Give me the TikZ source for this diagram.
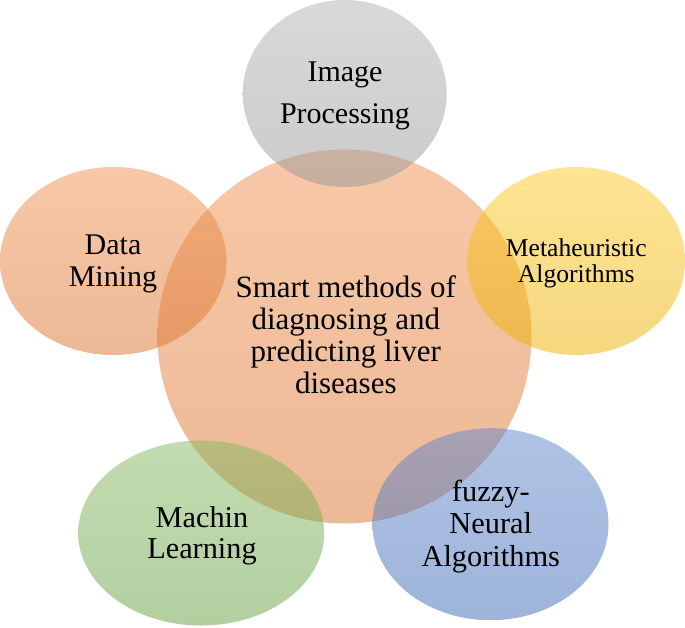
\documentclass[tikz,border=0pt]{standalone}
\usepackage{fontspec}
\setmainfont{Liberation Serif}
\definecolor{cgrey}{HTML}{A5A5A5}
\definecolor{corange}{HTML}{ED7D31}
\definecolor{cyellow}{HTML}{FFC000}
\definecolor{cblue}{HTML}{4472C4}
\definecolor{cgreen}{HTML}{70AD47}
\tikzset{
  bubble/.style={top color=#1!85!white, bottom color=#1!92!black, fill opacity=0.5, draw=none},
  lbl/.style={align=center, inner sep=0pt, anchor=base, text=black, text opacity=1},
}
\begin{document}
\begin{tikzpicture}[x=1pt,y=-1pt]
\useasboundingbox (0,0) rectangle (685,627);
% central circle
\shade[bubble=corange] (344.5,336.5) ellipse [x radius=187pt, y radius=187pt];
% satellites
\shade[bubble=cgrey]   (344.7,93.5) ellipse [x radius=102pt, y radius=93.5pt];
\shade[bubble=corange] (113.3,261) ellipse [x radius=113.3pt, y radius=94pt];
\shade[bubble=cyellow] (576.2,261) ellipse [x radius=109pt, y radius=94pt];
\shade[bubble=cblue]   (490.5,524.2) ellipse [x radius=118pt, y radius=96pt];
\shade[bubble=cgreen]  (201.2,533) ellipse [x radius=123pt, y radius=92.5pt];
% labels (base anchor = baseline of the last line)
\node[lbl, font=\fontsize{30}{41.5}\selectfont] (tImage) at (345,123.3) {Image\\Processing};
\node[lbl, font=\fontsize{31}{32}\selectfont] (tCenter) at (345.8,393.3) {Smart methods of\\diagnosing and\\predicting liver\\diseases};
\node[lbl, font=\fontsize{30}{32}\selectfont] (tData) at (113,286.7) {Data\\Mining};
\node[lbl, font=\fontsize{25.6}{26}\selectfont] (tMeta) at (576.3,282.7) {Metaheuristic\\Algorithms};
\node[lbl, font=\fontsize{30.4}{32.2}\selectfont] (tFuzzy) at (490.8,566) {fuzzy-\\Neural\\Algorithms};
\node[lbl, font=\fontsize{30.3}{31}\selectfont] (tMachin) at (202,558.3) {Machin\\Learning};
\end{tikzpicture}
\end{document}
